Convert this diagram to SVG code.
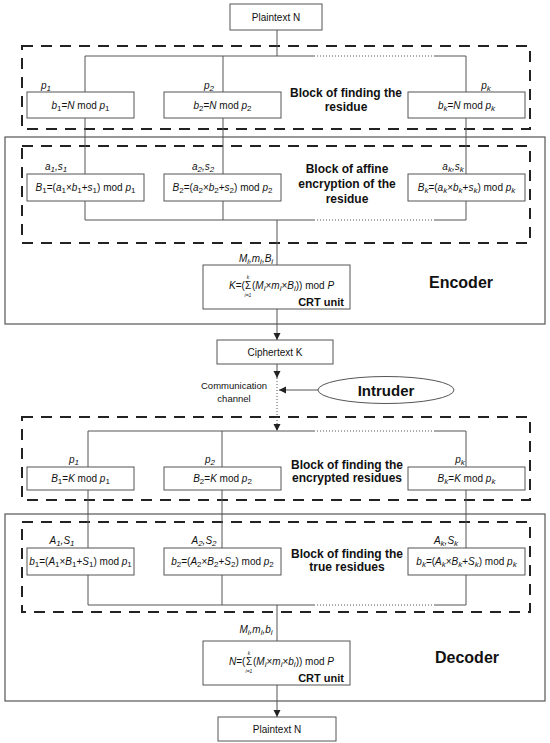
<svg xmlns="http://www.w3.org/2000/svg" width="550" height="743" viewBox="0 0 550 743">
<defs>
<marker id="ah" markerWidth="8" markerHeight="8" refX="7" refY="4" orient="auto" markerUnits="userSpaceOnUse">
<path d="M0,0.5 L7,4 L0,7.5 Z" fill="#222"/>
</marker>
<style>
text{font-family:"Liberation Sans",Arial,sans-serif;fill:#111}
.box{fill:#fff;stroke:#555;stroke-width:1}
.frame{fill:none;stroke:#555;stroke-width:1.2}
.dash{fill:none;stroke:#222;stroke-width:2;stroke-dasharray:11 8}
.ln{fill:none;stroke:#555;stroke-width:1}
.dot{fill:none;stroke:#555;stroke-width:1;stroke-dasharray:1 2}
.t{font-size:10px}
.i{font-style:italic}
.lab{font-size:10px;font-style:italic}
.blk{font-size:12px;font-weight:bold}
.big{font-size:16px;font-weight:bold}
.crt{font-size:11px;font-weight:bold}
.s{font-size:8px}
.tiny{font-size:5px;font-style:italic}
</style>
</defs>

<g id="encoder">
<rect class="frame" x="5" y="137" width="540" height="187"/>
<text class="big" x="461" y="288" text-anchor="middle">Encoder</text>
</g>
<g id="decoder">
<rect class="frame" x="5" y="514" width="540" height="187"/>
<text class="big" x="467" y="663" text-anchor="middle">Decoder</text>
</g>

<g id="block-residue">
<rect class="dash" x="22" y="46" width="508" height="83"/>
<text class="blk" x="346" y="97" text-anchor="middle">Block of finding the</text>
<text class="blk" x="346" y="111" text-anchor="middle">residue</text>
</g>
<g id="block-affine">
<rect class="dash" x="22" y="146" width="508" height="97"/>
<text class="blk" x="347" y="173" text-anchor="middle">Block of affine</text>
<text class="blk" x="347" y="188" text-anchor="middle">encryption of the</text>
<text class="blk" x="347" y="203" text-anchor="middle">residue</text>
</g>
<g id="block-enc-residues">
<rect class="dash" x="22" y="417" width="508" height="83"/>
<text class="blk" x="347" y="469" text-anchor="middle">Block of finding the</text>
<text class="blk" x="347" y="482" text-anchor="middle">encrypted residues</text>
</g>
<g id="block-true-residues">
<rect class="dash" x="22" y="522" width="508" height="90"/>
<text class="blk" x="347" y="558" text-anchor="middle">Block of finding the</text>
<text class="blk" x="347" y="571" text-anchor="middle">true residues</text>
</g>

<g id="connectors">
<line class="ln" x1="277" y1="30" x2="277" y2="56"/>
<polyline class="ln" points="85,92 85,56 314,56"/>
<line class="dot" x1="314" y1="56" x2="435" y2="56"/>
<polyline class="ln" points="435,56 466,56 466,92"/>
<line class="ln" x1="223" y1="56" x2="223" y2="92"/>
<line class="ln" x1="85" y1="118" x2="85" y2="174"/>
<line class="ln" x1="223" y1="118" x2="223" y2="174"/>
<line class="ln" x1="466" y1="118" x2="466" y2="174"/>
<polyline class="ln" points="85,201 85,220 314,220"/>
<line class="dot" x1="314" y1="220" x2="435" y2="220"/>
<polyline class="ln" points="435,220 466,220 466,201"/>
<line class="ln" x1="223" y1="201" x2="223" y2="220"/>
<line class="ln" x1="277" y1="220" x2="277" y2="265"/>
<line class="ln" x1="277" y1="309" x2="277" y2="340" marker-end="url(#ah)"/>
<line class="ln" x1="277" y1="364" x2="277" y2="378" marker-end="url(#ah)"/>
<line class="dot" x1="277" y1="378" x2="277" y2="431" marker-end="url(#ah)"/>
<line class="ln" x1="318" y1="390" x2="279" y2="390" marker-end="url(#ah)"/>
<polyline class="ln" points="88,467 88,431 314,431"/>
<line class="dot" x1="314" y1="431" x2="435" y2="431"/>
<polyline class="ln" points="435,431 466,431 466,467"/>
<line class="ln" x1="222" y1="431" x2="222" y2="467"/>
<line class="ln" x1="88" y1="490" x2="88" y2="548"/>
<line class="ln" x1="222" y1="490" x2="222" y2="548"/>
<line class="ln" x1="466" y1="490" x2="466" y2="548"/>
<polyline class="ln" points="88,575 88,605 314,605"/>
<line class="dot" x1="314" y1="605" x2="435" y2="605"/>
<polyline class="ln" points="435,605 466,605 466,575"/>
<line class="ln" x1="222" y1="575" x2="222" y2="605"/>
<line class="ln" x1="277" y1="605" x2="277" y2="641"/>
<line class="ln" x1="277" y1="685" x2="277" y2="717" marker-end="url(#ah)"/>
</g>

<g id="plaintext-top">
<rect class="box" x="230" y="4" width="92" height="26"/>
<text class="t" x="276" y="21" text-anchor="middle">Plaintext N</text>
</g>

<g id="b1">
<rect class="box" x="27" y="92" width="107" height="26"/>
<text class="lab" x="46" y="89" text-anchor="middle">p<tspan class="s" dy="2">1</tspan></text>
<text class="t" x="80.5" y="109" text-anchor="middle"><tspan class="i">b</tspan><tspan class="s" dy="2">1</tspan><tspan dy="-2">=</tspan><tspan class="i">N</tspan> mod <tspan class="i">p</tspan><tspan class="s" dy="2">1</tspan></text>
</g>
<g id="b2">
<rect class="box" x="164" y="92" width="117" height="26"/>
<text class="lab" x="209" y="89" text-anchor="middle">p<tspan class="s" dy="2">2</tspan></text>
<text class="t" x="222.5" y="109" text-anchor="middle"><tspan class="i">b</tspan><tspan class="s" dy="2">2</tspan><tspan dy="-2">=</tspan><tspan class="i">N</tspan> mod <tspan class="i">p</tspan><tspan class="s" dy="2">2</tspan></text>
</g>
<g id="bk">
<rect class="box" x="408" y="92" width="117" height="26"/>
<text class="lab" x="486" y="89" text-anchor="middle">p<tspan class="s" dy="2">k</tspan></text>
<text class="t" x="466.5" y="109" text-anchor="middle"><tspan class="i">b</tspan><tspan class="s i" dy="2">k</tspan><tspan dy="-2">=</tspan><tspan class="i">N</tspan> mod <tspan class="i">p</tspan><tspan class="s i" dy="2">k</tspan></text>
</g>

<g id="B1">
<rect class="box" x="27" y="174" width="117" height="27"/>
<text class="lab" x="56" y="170" text-anchor="middle">a<tspan class="s" dy="2">1</tspan><tspan dy="-2">,s</tspan><tspan class="s" dy="2">1</tspan></text>
<text class="t" x="85.5" y="191" text-anchor="middle"><tspan class="i">B</tspan><tspan class="s" dy="2">1</tspan><tspan dy="-2">=(</tspan><tspan class="i">a</tspan><tspan class="s" dy="2">1</tspan><tspan dy="-2">×</tspan><tspan class="i">b</tspan><tspan class="s" dy="2">1</tspan><tspan dy="-2">+</tspan><tspan class="i">s</tspan><tspan class="s" dy="2">1</tspan><tspan dy="-2">) mod </tspan><tspan class="i">p</tspan><tspan class="s" dy="2">1</tspan></text>
</g>
<g id="B2">
<rect class="box" x="164" y="174" width="117" height="27"/>
<text class="lab" x="203" y="170" text-anchor="middle">a<tspan class="s" dy="2">2</tspan><tspan dy="-2">,s</tspan><tspan class="s" dy="2">2</tspan></text>
<text class="t" x="222.5" y="191" text-anchor="middle"><tspan class="i">B</tspan><tspan class="s" dy="2">2</tspan><tspan dy="-2">=(</tspan><tspan class="i">a</tspan><tspan class="s" dy="2">2</tspan><tspan dy="-2">×</tspan><tspan class="i">b</tspan><tspan class="s" dy="2">2</tspan><tspan dy="-2">+</tspan><tspan class="i">s</tspan><tspan class="s" dy="2">2</tspan><tspan dy="-2">) mod </tspan><tspan class="i">p</tspan><tspan class="s" dy="2">2</tspan></text>
</g>
<g id="Bk">
<rect class="box" x="408" y="174" width="117" height="27"/>
<text class="lab" x="453" y="170" text-anchor="middle">a<tspan class="s" dy="2">k</tspan><tspan dy="-2">,s</tspan><tspan class="s" dy="2">k</tspan></text>
<text class="t" x="466.5" y="191" text-anchor="middle"><tspan class="i">B</tspan><tspan class="s i" dy="2">k</tspan><tspan dy="-2">=(</tspan><tspan class="i">a</tspan><tspan class="s i" dy="2">k</tspan><tspan dy="-2">×</tspan><tspan class="i">b</tspan><tspan class="s i" dy="2">k</tspan><tspan dy="-2">+</tspan><tspan class="i">s</tspan><tspan class="s i" dy="2">k</tspan><tspan dy="-2">) mod </tspan><tspan class="i">p</tspan><tspan class="s i" dy="2">k</tspan></text>
</g>

<g id="crt-enc">
<rect class="box" x="203" y="265" width="147" height="44"/>
<text class="lab" x="256" y="262" text-anchor="middle">M<tspan class="s" dy="2">i</tspan><tspan dy="-2">,m</tspan><tspan class="s" dy="2">i</tspan><tspan dy="-2">,B</tspan><tspan class="s" dy="2">i</tspan></text>
<text class="t" x="229" y="289"><tspan class="i">K</tspan>=(</text>
<text class="t" x="245" y="289">Σ</text>
<text class="t" x="252" y="289">(<tspan class="i">M</tspan><tspan class="s i" dy="2">i</tspan><tspan dy="-2">×</tspan><tspan class="i">m</tspan><tspan class="s i" dy="2">i</tspan><tspan dy="-2">×</tspan><tspan class="i">B</tspan><tspan class="s i" dy="2">i</tspan><tspan dy="-2">)) mod </tspan><tspan class="i">P</tspan></text>
<text class="tiny" x="248" y="278.5" text-anchor="middle">k</text>
<text class="tiny" x="248" y="297" text-anchor="middle">i=1</text>
<text class="crt" x="344" y="306" text-anchor="end">CRT unit</text>
</g>

<g id="ciphertext">
<rect class="box" x="217" y="340" width="116" height="24"/>
<text class="t" x="275" y="356" text-anchor="middle">Ciphertext K</text>
</g>

<g id="channel">
<text x="234" y="389" text-anchor="middle" style="font-size:9.5px">Communication</text>
<text x="234" y="402" text-anchor="middle" style="font-size:9.5px">channel</text>
</g>

<g id="intruder">
<ellipse cx="386" cy="390" rx="68" ry="13.5" fill="#fff" stroke="#555" stroke-width="1"/>
<text x="386" y="395.5" text-anchor="middle" style="font-size:15px;font-weight:bold">Intruder</text>
</g>

<g id="B1d">
<rect class="box" x="27" y="467" width="107" height="23"/>
<text class="lab" x="74" y="463" text-anchor="middle">p<tspan class="s" dy="2">1</tspan></text>
<text class="t" x="80.5" y="482" text-anchor="middle"><tspan class="i">B</tspan><tspan class="s" dy="2">1</tspan><tspan dy="-2">=</tspan><tspan class="i">K</tspan> mod <tspan class="i">p</tspan><tspan class="s" dy="2">1</tspan></text>
</g>
<g id="B2d">
<rect class="box" x="164" y="467" width="117" height="23"/>
<text class="lab" x="210" y="463" text-anchor="middle">p<tspan class="s" dy="2">2</tspan></text>
<text class="t" x="222.5" y="482" text-anchor="middle"><tspan class="i">B</tspan><tspan class="s" dy="2">2</tspan><tspan dy="-2">=</tspan><tspan class="i">K</tspan> mod <tspan class="i">p</tspan><tspan class="s" dy="2">2</tspan></text>
</g>
<g id="Bkd">
<rect class="box" x="408" y="467" width="117" height="23"/>
<text class="lab" x="460" y="463" text-anchor="middle">p<tspan class="s" dy="2">k</tspan></text>
<text class="t" x="466.5" y="482" text-anchor="middle"><tspan class="i">B</tspan><tspan class="s i" dy="2">k</tspan><tspan dy="-2">=</tspan><tspan class="i">K</tspan> mod <tspan class="i">p</tspan><tspan class="s i" dy="2">k</tspan></text>
</g>

<g id="b1d">
<rect class="box" x="27" y="548" width="107" height="27"/>
<text class="lab" x="62" y="544" text-anchor="middle">A<tspan class="s" dy="2">1</tspan><tspan dy="-2">,S</tspan><tspan class="s" dy="2">1</tspan></text>
<text class="t" x="80.5" y="565" text-anchor="middle"><tspan class="i">b</tspan><tspan class="s" dy="2">1</tspan><tspan dy="-2">=(</tspan><tspan class="i">A</tspan><tspan class="s" dy="2">1</tspan><tspan dy="-2">×</tspan><tspan class="i">B</tspan><tspan class="s" dy="2">1</tspan><tspan dy="-2">+</tspan><tspan class="i">S</tspan><tspan class="s" dy="2">1</tspan><tspan dy="-2">) mod </tspan><tspan class="i">p</tspan><tspan class="s" dy="2">1</tspan></text>
</g>
<g id="b2d">
<rect class="box" x="164" y="548" width="117" height="27"/>
<text class="lab" x="204" y="544" text-anchor="middle">A<tspan class="s" dy="2">2</tspan><tspan dy="-2">,S</tspan><tspan class="s" dy="2">2</tspan></text>
<text class="t" x="222.5" y="565" text-anchor="middle"><tspan class="i">b</tspan><tspan class="s" dy="2">2</tspan><tspan dy="-2">=(</tspan><tspan class="i">A</tspan><tspan class="s" dy="2">2</tspan><tspan dy="-2">×</tspan><tspan class="i">B</tspan><tspan class="s" dy="2">2</tspan><tspan dy="-2">+</tspan><tspan class="i">S</tspan><tspan class="s" dy="2">2</tspan><tspan dy="-2">) mod </tspan><tspan class="i">p</tspan><tspan class="s" dy="2">2</tspan></text>
</g>
<g id="bkd">
<rect class="box" x="408" y="548" width="117" height="27"/>
<text class="lab" x="446" y="544" text-anchor="middle">A<tspan class="s" dy="2">k</tspan><tspan dy="-2">,S</tspan><tspan class="s" dy="2">k</tspan></text>
<text class="t" x="466.5" y="565" text-anchor="middle"><tspan class="i">b</tspan><tspan class="s i" dy="2">k</tspan><tspan dy="-2">=(</tspan><tspan class="i">A</tspan><tspan class="s i" dy="2">k</tspan><tspan dy="-2">×</tspan><tspan class="i">B</tspan><tspan class="s i" dy="2">k</tspan><tspan dy="-2">+</tspan><tspan class="i">S</tspan><tspan class="s i" dy="2">k</tspan><tspan dy="-2">) mod </tspan><tspan class="i">p</tspan><tspan class="s i" dy="2">k</tspan></text>
</g>

<g id="crt-dec">
<rect class="box" x="203" y="641" width="147" height="44"/>
<text class="lab" x="256" y="633" text-anchor="middle">M<tspan class="s" dy="2">i</tspan><tspan dy="-2">,m</tspan><tspan class="s" dy="2">i</tspan><tspan dy="-2">,b</tspan><tspan class="s" dy="2">i</tspan></text>
<text class="t" x="229" y="665"><tspan class="i">N</tspan>=(</text>
<text class="t" x="246" y="665">Σ</text>
<text class="t" x="253" y="665">(<tspan class="i">M</tspan><tspan class="s i" dy="2">i</tspan><tspan dy="-2">×</tspan><tspan class="i">m</tspan><tspan class="s i" dy="2">i</tspan><tspan dy="-2">×</tspan><tspan class="i">b</tspan><tspan class="s i" dy="2">i</tspan><tspan dy="-2">)) mod </tspan><tspan class="i">P</tspan></text>
<text class="tiny" x="249" y="654.5" text-anchor="middle">k</text>
<text class="tiny" x="249" y="673" text-anchor="middle">i=1</text>
<text class="crt" x="344" y="682" text-anchor="end">CRT unit</text>
</g>

<g id="plaintext-bottom">
<rect class="box" x="218" y="717" width="118" height="24"/>
<text class="t" x="277" y="733" text-anchor="middle">Plaintext N</text>
</g>
</svg>
